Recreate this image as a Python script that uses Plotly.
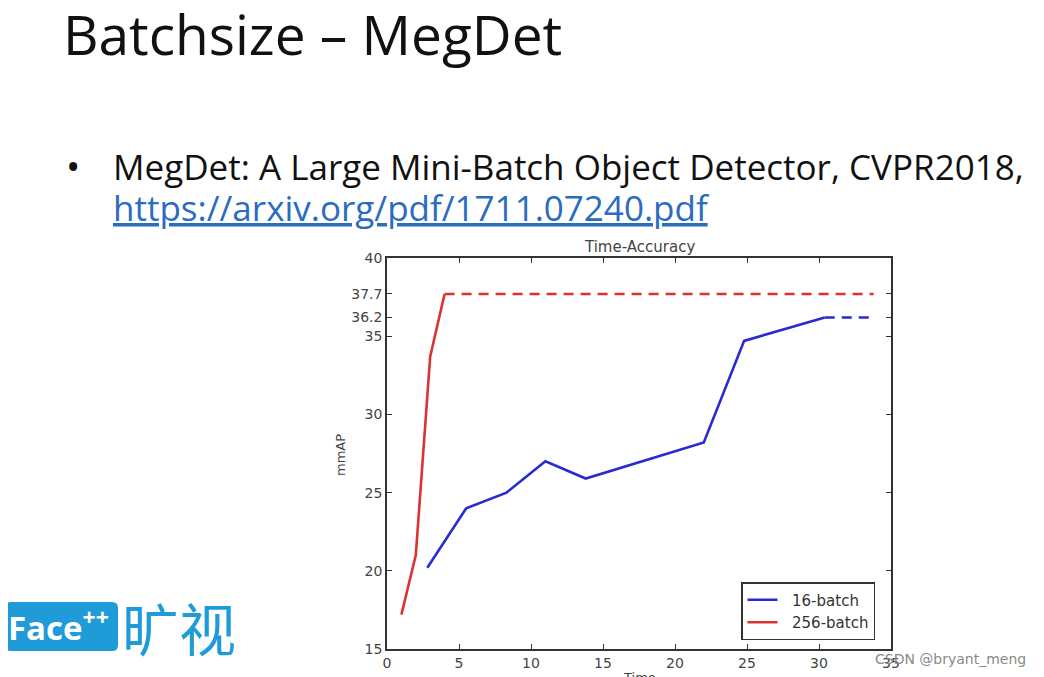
import plotly.graph_objects as go

# ---- data ----
t_16 = [2.8, 5.5, 8.3, 11.0, 13.8, 22.0, 24.8, 30.4]
map_16 = [20.2, 24.0, 25.0, 27.0, 25.9, 28.2, 34.7, 36.2]
t_16_ext = [30.4, 33.8]
map_16_ext = [36.2, 36.2]

t_256 = [1.0, 2.0, 3.0, 4.0]
map_256 = [17.2, 21.0, 33.7, 37.7]
t_256_ext = [4.0, 33.8]
map_256_ext = [37.7, 37.7]

x_ticks = [0, 5, 10, 15, 20, 25, 30, 35]
y_ticks = [15, 20, 25, 30, 35, 36.2, 37.7, 40]
y_tick_labels = ["15", "20", "25", "30", "35", "36.2", "37.7", "40"]
series_names = ["\u00a0\u00a016-batch", "\u00a0\u00a0256-batch"]

BLUE = "#2a2ad2"
RED = "#dc3232"

# page body has an 8px default margin
OFF = 8
# plot area in screenshot pixels
L, R, T, B = 387, 891, 258, 649
W, H = 1044 - 2 * OFF, 677 - OFF


def px(x):
    return (x - L) / (R - L)


def py(y):
    return (B - y) / (B - T)


fig = go.Figure()
fig.add_trace(go.Scatter(x=t_16, y=map_16, mode="lines", name=series_names[0],
                         line=dict(color=BLUE, width=2.6)))
fig.add_trace(go.Scatter(x=t_256, y=map_256, mode="lines", name=series_names[1],
                         line=dict(color=RED, width=2.6)))
fig.add_trace(go.Scatter(x=t_16_ext, y=map_16_ext, mode="lines", showlegend=False,
                         line=dict(color=BLUE, width=2.6, dash="10px,7px")))
fig.add_trace(go.Scatter(x=t_256_ext, y=map_256_ext, mode="lines", showlegend=False,
                         line=dict(color=RED, width=2.6, dash="10px,7px")))

axis_font = dict(family="DejaVu Sans", size=14, color="#444")
fig.update_xaxes(range=[0, 35], tickvals=x_ticks, ticks="inside", ticklen=5,
                 tickcolor="#333", showline=True, linecolor="#333", linewidth=1.5,
                 mirror="ticks", showgrid=False, zeroline=False, tickfont=axis_font,
                 automargin=False)
fig.update_yaxes(range=[15, 40], tickvals=y_ticks, ticktext=y_tick_labels,
                 ticks="inside", ticklen=5, tickcolor="#333", showline=True,
                 linecolor="#333", linewidth=1.5, mirror="ticks", showgrid=False,
                 zeroline=False, tickfont=axis_font, automargin=False)

ann = []
# chart title
ann.append(dict(x=0.5, y=py(247), xref="paper", yref="paper", text="Time-Accuracy",
                showarrow=False, font=dict(family="DejaVu Sans", size=15, color="#444"),
                xanchor="center", yanchor="middle"))
# x title (cut off at bottom, as in the source)
ann.append(dict(x=0.5, y=py(677), xref="paper", yref="paper", text="Time",
                showarrow=False, font=dict(family="DejaVu Sans", size=13, color="#444"),
                xanchor="center", yanchor="middle"))
# y title
ann.append(dict(x=px(340), y=py(455), xref="paper", yref="paper", text="mmAP",
                showarrow=False, textangle=-90,
                font=dict(family="DejaVu Sans", size=13, color="#444"),
                xanchor="center", yanchor="middle"))
# slide title
ann.append(dict(x=px(61), y=py(33), xref="paper", yref="paper", text="Batchsize – MegDet",
                showarrow=False, font=dict(family="Open Sans", size=55, color="#111"),
                xanchor="left", yanchor="middle"))
# bullet
ann.append(dict(x=px(64), y=py(166), xref="paper", yref="paper", text="•",
                showarrow=False, font=dict(family="Open Sans", size=38, color="#111"),
                xanchor="left", yanchor="middle"))
ann.append(dict(x=px(111), y=py(166), xref="paper", yref="paper",
                text="MegDet: A Large Mini-Batch Object Detector, CVPR2018,",
                showarrow=False, font=dict(family="Open Sans", size=35, color="#111"),
                xanchor="left", yanchor="middle"))
ann.append(dict(x=px(111), y=py(207), xref="paper", yref="paper",
                text="<u>https://arxiv.org/pdf/1711.07240.pdf</u>",
                showarrow=False, font=dict(family="Open Sans", size=35, color="#2a6cc0"),
                xanchor="left", yanchor="middle"))
# logo text
ann.append(dict(x=px(6), y=py(625), xref="paper", yref="paper",
                text="<b>Face</b><sup><b>++</b></sup>",
                showarrow=False, font=dict(family="Open Sans", size=33, color="white"),
                xanchor="left", yanchor="middle"))
ann.append(dict(x=px(120), y=py(626), xref="paper", yref="paper", text="旷视",
                showarrow=False, font=dict(family="Noto Sans CJK SC", size=57, color="#1f9bd8"),
                xanchor="left", yanchor="middle"))
# watermark
ann.append(dict(x=px(873), y=py(659), xref="paper", yref="paper", text="CSDN @bryant_meng",
                showarrow=False, font=dict(family="DejaVu Sans", size=14, color="#8a8a8a"),
                xanchor="left", yanchor="middle"))

# logo rounded rectangle
x0, x1, y0, y1, r = px(5), px(118), py(602), py(651), 6
rx, ry = r / (R - L), r / (B - T)
path = (f"M {x0+rx},{y0} L {x1-rx},{y0} Q {x1},{y0} {x1},{y0-ry} "
        f"L {x1},{y1+ry} Q {x1},{y1} {x1-rx},{y1} L {x0+rx},{y1} "
        f"Q {x0},{y1} {x0},{y1+ry} L {x0},{y0-ry} Q {x0},{y0} {x0+rx},{y0} Z")
shapes = [dict(type="path", path=path, xref="paper", yref="paper",
               fillcolor="#1f9bd8", line=dict(width=0), layer="below")]

fig.update_layout(
    width=W, height=H, autosize=False,
    margin=dict(l=L - OFF, r=W + OFF - R, t=T - OFF, b=H + OFF - B, pad=0),
    paper_bgcolor="white", plot_bgcolor="white",
    annotations=ann, shapes=shapes,
    legend=dict(x=px(741), y=py(640), xanchor="left", yanchor="bottom",
                bgcolor="white", bordercolor="#333", borderwidth=1.5,
                font=dict(family="DejaVu Sans", size=15, color="#333"),
                tracegroupgap=0, itemwidth=30),
    showlegend=True,
)

fig.write_html("out.html")
